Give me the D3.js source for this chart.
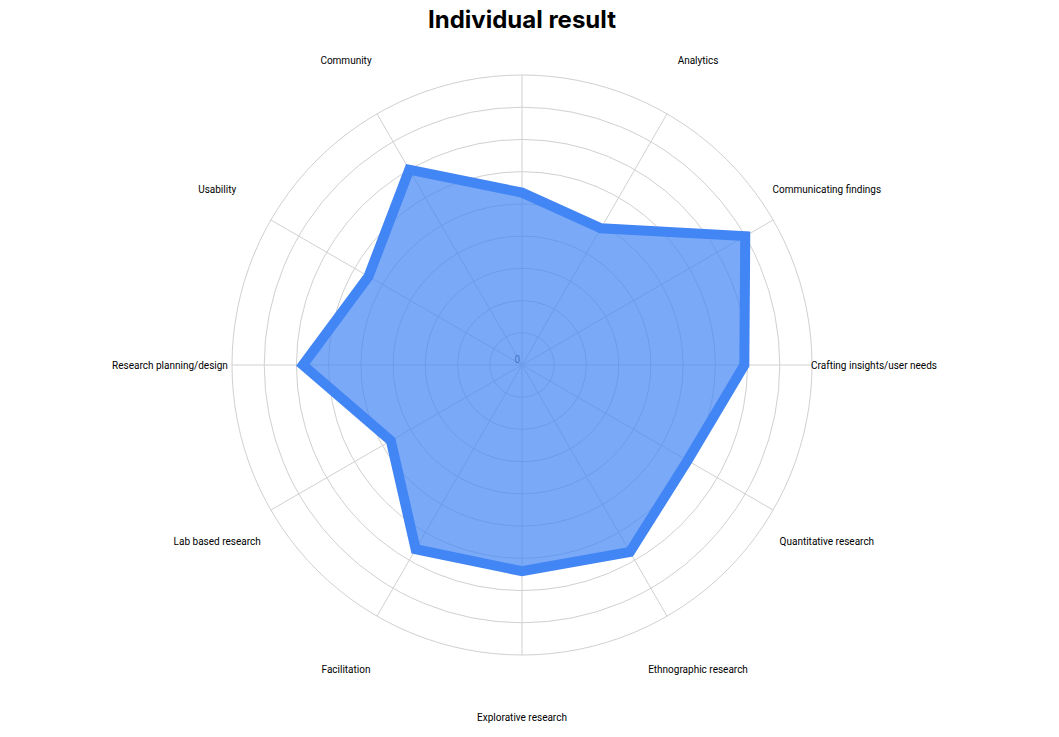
<!DOCTYPE html>
<html>
<head>
<meta charset="utf-8">
<script src="https://cdn.jsdelivr.net/npm/d3@7"></script>
<style>
  body { margin: 0; background: #fff; }
  svg { display: block; }
</style>
</head>
<body>
<svg width="1059" height="737"></svg>
<script>
// categories clockwise from the top spoke (top one has no label)
const categories = ["", "Analytics", "Communicating findings", "Crafting insights/user needs",
    "Quantitative research", "Ethnographic research", "Explorative research", "Facilitation",
    "Lab based research", "Research planning/design", "Usability", "Community"];
const scores = [5.35, 4.9, 8.0, 6.9, 5.93, 6.7, 6.4, 6.6, 4.7, 6.8, 5.5, 7.0];
const ringTicks = [1, 2, 3, 4, 5, 6, 7, 8, 9];
const maxScore = 9;

const svg = d3.select("svg");
const cx = 522;
const cy = 365;
const radius = 290;
const labelRadius = 352;

const chart = svg.append("g").attr("transform", `translate(${cx}, ${cy})`);

const r = d3.scaleLinear().domain([0, maxScore]).range([0, radius]);
const angle = d3.scalePoint()
    .domain(d3.range(categories.length))
    .range([0, 2 * Math.PI * (categories.length - 1) / categories.length]);

function point(i, dist) {
    const a = angle(i);
    return [Math.sin(a) * dist, -Math.cos(a) * dist];
}

// rings
chart.selectAll(".ring")
    .data(ringTicks)
    .enter()
    .append("circle")
    .attr("class", "ring")
    .attr("r", (d) => r(d))
    .attr("fill", "none")
    .attr("stroke", "#d0d0d0")
    .attr("stroke-width", 1);

// spokes
chart.selectAll(".spoke")
    .data(d3.range(categories.length))
    .enter()
    .append("line")
    .attr("class", "spoke")
    .attr("x1", 0)
    .attr("y1", 0)
    .attr("x2", (i) => point(i, radius)[0])
    .attr("y2", (i) => point(i, radius)[1])
    .attr("stroke", "#d0d0d0")
    .attr("stroke-width", 1);

// center tick label
chart.append("text")
    .attr("x", -2)
    .attr("y", -2)
    .attr("text-anchor", "end")
    .attr("font-family", "Roboto, sans-serif")
    .attr("font-size", "10px")
    .attr("fill", "#555")
    .text("0");

// the data shape
const line = d3.lineRadial()
    .angle((d, i) => angle(i))
    .radius((d) => r(d))
    .curve(d3.curveLinearClosed);

chart.append("path")
    .datum(scores)
    .attr("d", line)
    .attr("fill", "rgba(66, 133, 244, 0.7)")
    .attr("stroke", "#4285f4")
    .attr("stroke-width", 10)
    .attr("stroke-linejoin", "miter");

// category labels
chart.selectAll(".label")
    .data(categories)
    .enter()
    .append("text")
    .attr("class", "label")
    .attr("x", (d, i) => point(i, labelRadius)[0])
    .attr("y", (d, i) => point(i, labelRadius)[1])
    .attr("text-anchor", "middle")
    .attr("dominant-baseline", "central")
    .attr("font-family", "Roboto, sans-serif")
    .attr("font-size", "10px")
    .attr("fill", "#000")
    .text((d) => d);

// title
svg.append("text")
    .attr("x", cx)
    .attr("y", 28)
    .attr("text-anchor", "middle")
    .attr("font-family", "Inter, Roboto, sans-serif")
    .attr("font-weight", 700)
    .attr("font-size", "24px")
    .attr("fill", "#000")
    .text("Individual result");
</script>
</body>
</html>
